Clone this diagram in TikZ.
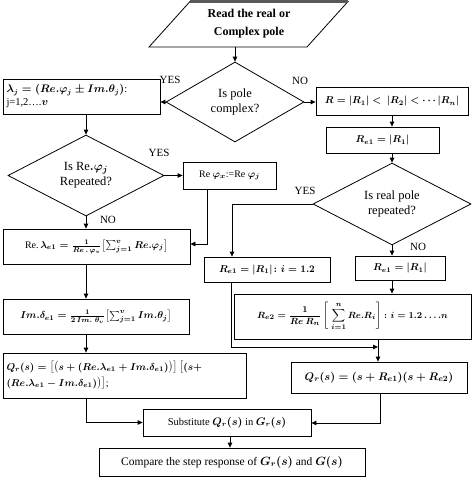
\documentclass[tikz,border=0pt]{standalone}
\usepackage{fontspec}
\setmainfont{Liberation Serif}
\usepackage{amsmath}
\usetikzlibrary{shapes.geometric,arrows.meta,calc}
\begin{document}
\begin{tikzpicture}[x=1pt,y=-1pt,
  every node/.style={font=\fontsize{10}{12}\selectfont\boldmath},
  box/.style={draw, line width=0.8pt, inner sep=1pt, align=center},
  dia/.style={draw, diamond, inner sep=0pt, line width=0.8pt, align=center, font=\fontsize{12.5}{15}\selectfont\boldmath},
  arr/.style={-{Triangle[length=5pt,width=4.5pt]}, line width=0.8pt},
  ln/.style={line width=0.8pt},
  lbl/.style={inner sep=0pt, font=\fontsize{11}{13}\selectfont}]
\useasboundingbox (0,0) rectangle (474,479);
% start parallelogram
\coordinate (p1) at (190,1.5);
\coordinate (p2) at (348,1.5);
\coordinate (p3) at (307,47);
\coordinate (p4) at (149,47);
\draw[ln] (p1) -- (p2) -- (p3) -- (p4) -- cycle;
\draw[line width=2.5pt, black!65] (p1) -- (p2);
\node[align=center, font=\fontsize{12}{18}\selectfont\bfseries] (read) at (249,23.5) {Read the real or\\Complex pole};
\coordinate (pb) at (235,47);
% diamonds
\node[dia, minimum width=138pt, minimum height=80pt] (d1) at (235,102) {Is pole\\complex?};
\node[dia, minimum width=156pt, minimum height=81pt] (d2) at (86,175.5) {Is Re$.\varphi_j$\\Repeated?};
\node[dia, minimum width=158pt, minimum height=78pt] (d3) at (392,204) {Is real pole\\repeated?};
% left boxes
\node[box, minimum width=157pt, minimum height=35pt, text width=150pt, align=left, font=\fontsize{10.5}{13}\selectfont\boldmath] (lam) at (81.5,96.5)
  {$\lambda_j = \left(Re.\varphi_j \pm Im.\theta_j\right)$:\\ j=1,2\dots.$v$};
\node[box, minimum width=93pt, minimum height=27pt] (rephi) at (229.5,175.5) {Re $\varphi_x$:=Re $\varphi_j$};
\node[box, minimum width=187pt, minimum height=35pt] (relam) at (96.5,246.5)
  {Re.\,$\lambda_{e1} = \frac{1}{Re\,.\,\varphi_v}\bigl[\sum_{j=1}^{v} Re.\varphi_j\bigr]$};
\node[box, minimum width=186pt, minimum height=35pt] (imd) at (96,316.5)
  {$Im.\delta_{e1} = \frac{1}{2\,Im.\;\theta_v}\bigl[\sum_{j=1}^{v} Im.\theta_j\bigr]$};
\node[box, minimum width=243pt, minimum height=45pt, text width=236pt, align=left, font=\fontsize{10}{14}\selectfont\boldmath] (ql) at (124.5,375.5)
  {$Q_r(s) = \bigl[\bigl(s + (Re.\lambda_{e1} + Im.\delta_{e1})\bigr)\bigr]\,\bigl[(s +$\\[2pt]
   $(Re.\lambda_{e1} - Im.\delta_{e1})\bigr)\bigr]$;};
\node[box, minimum width=168pt, minimum height=27pt, font=\fontsize{10.5}{12}\selectfont\boldmath] (sub) at (227,422.5) {Substitute $Q_r(s)$ in $G_r(s)$};
\node[box, minimum width=266pt, minimum height=28pt, font=\fontsize{11.5}{13}\selectfont\boldmath] (cmp) at (232,462) {Compare the step response of $G_r(s)$ and $G(s)$};
% right boxes
\node[box, minimum width=152pt, minimum height=28pt] (rr) at (392,101) {$R = |R_1| <\ |R_2| < \cdots |R_n|$};
\node[box, minimum width=113pt, minimum height=26pt] (re1) at (382.5,140) {$R_{e1} = |R_1|$};
\node[box, minimum width=126pt, minimum height=25pt] (rea) at (267,269.5) {$R_{e1} = |R_1|\colon i = 1.2$};
\node[box, minimum width=90pt, minimum height=24pt] (reb) at (400,268) {$R_{e1} = |R_1|$};
\node[box, minimum width=237pt, minimum height=45pt, font=\fontsize{9.5}{12}\selectfont\boldmath] (re2) at (352.5,316.5)
  {$\displaystyle R_{e2} = \frac{1}{Re\ R_n}\left[\;\sum_{i=1}^{n} Re.R_i\right]\colon i = 1.2\ldots.n$};
\node[box, minimum width=176pt, minimum height=31pt, font=\fontsize{11}{13}\selectfont\boldmath] (qr) at (379,377.5) {$Q_r(s) = (s + R_{e1})(s + R_{e2})$};
% labels
\node[lbl] (y1) at (170,80) {YES};
\node[lbl] (n1) at (300,81) {NO};
\node[lbl] (y2) at (159,153) {YES};
\node[lbl] (n2) at (108,220) {NO};
\node[lbl] (y3) at (305,191) {YES};
\node[lbl] (n3) at (418,247) {NO};
% connectors
\draw[arr] (pb) -- (d1.north);
\draw[arr] (d1.west) -- (d1.west -| lam.east);
\draw[arr] (d1.east) -- (d1.east -| rr.west);
\draw[arr] (lam.south -| d2.north) -- (d2.north);
\draw[arr] (d2.east) -- (d2.east -| rephi.west);
\draw[arr] (d2.south) -- (d2.south |- relam.north);
\coordinate (c1) at (207,244);
\draw[arr] (rephi.south -| c1) -- (c1) -- (c1 -| relam.east);
\draw[arr] (relam.south -| d2.south) -- (imd.north -| d2.south);
\draw[arr] (imd.south -| d2.south) -- (ql.north -| d2.south);
\coordinate (c2) at (86,422.5);
\draw[arr] (ql.south -| c2) -- (c2) -- (sub.west);
\coordinate (c3) at (230,0);
\draw[arr] (sub.south -| c3) -- (cmp.north -| c3);
\draw[arr] (rr.south -| d3.north) -- (re1.north -| d3.north);
\draw[arr] (re1.south -| d3.north) -- (d3.north);
\coordinate (c4) at (232,204);
\draw[arr] (d3.west) -- (c4) -- (c4 |- rea.north);
\draw[arr] (d3.south) -- (d3.south |- reb.north);
\draw[arr] (reb.south -| d3.south) -- (re2.north -| d3.south);
\coordinate (c5) at (231,347);
\coordinate (c6) at (378,347);
\draw[arr] (rea.south -| c5) -- (c5) -- (c6);
\draw[arr] (re2.south -| c6) -- (qr.north -| c6);
\coordinate (c7) at (380,423);
\draw[arr] (qr.south -| c7) -- (c7) -- (c7 -| sub.east);
\end{tikzpicture}
\end{document}
